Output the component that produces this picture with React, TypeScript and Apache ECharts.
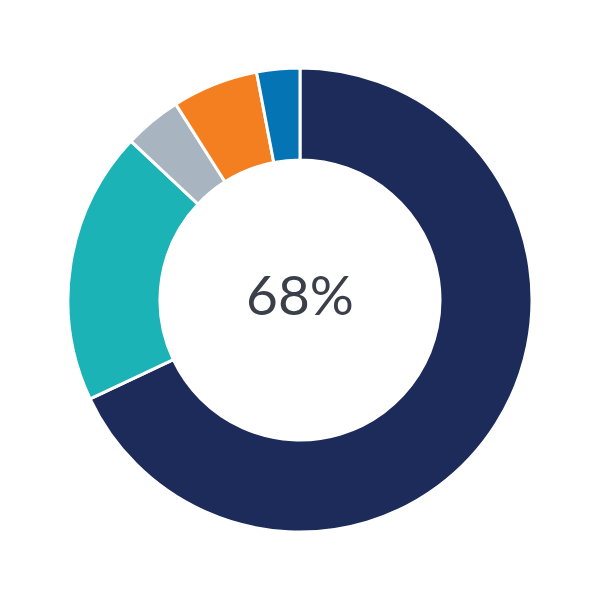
import React, { useEffect, useRef } from "react";
import * as echarts from "echarts";

const categories = ["Navy", "Teal", "Gray", "Orange", "Blue"];
const values = [68, 19, 4, 6, 3];
const colors = ["#1c2b5a", "#1bb3b5", "#a9b4c1", "#f47f20", "#0474b4"];
const centerLabel = "68%";

export default function App() {
  const ref = useRef<HTMLDivElement>(null);
  useEffect(() => {
    if (!ref.current) return;
    const chart = echarts.init(ref.current, null, { renderer: "svg" });
    chart.setOption({
      animation: false,
      backgroundColor: "#ffffff",
      graphic: [
        {
          type: "text",
          x: 300,
          y: 294,
          style: {
            text: centerLabel,
            align: "center",
            verticalAlign: "middle",
            fontFamily: "Lato",
            fontWeight: 400,
            fontSize: 55,
            fill: "#3a3f49",
          },
        },
      ],
      series: [
        {
          type: "pie",
          center: [300, 300],
          radius: [140, 232],
          startAngle: 90,
          clockwise: true,
          label: { show: false },
          labelLine: { show: false },
          itemStyle: { borderColor: "#ffffff", borderWidth: 3 },
          emphasis: { disabled: true },
          data: categories.map((name, i) => ({
            name,
            value: values[i],
            itemStyle: { color: colors[i] },
          })),
        },
      ],
    });
    return () => chart.dispose();
  }, []);
  return (
    <div
      ref={ref}
      style={{ position: "fixed", left: 0, top: 0, width: 600, height: 600 }}
    />
  );
}
